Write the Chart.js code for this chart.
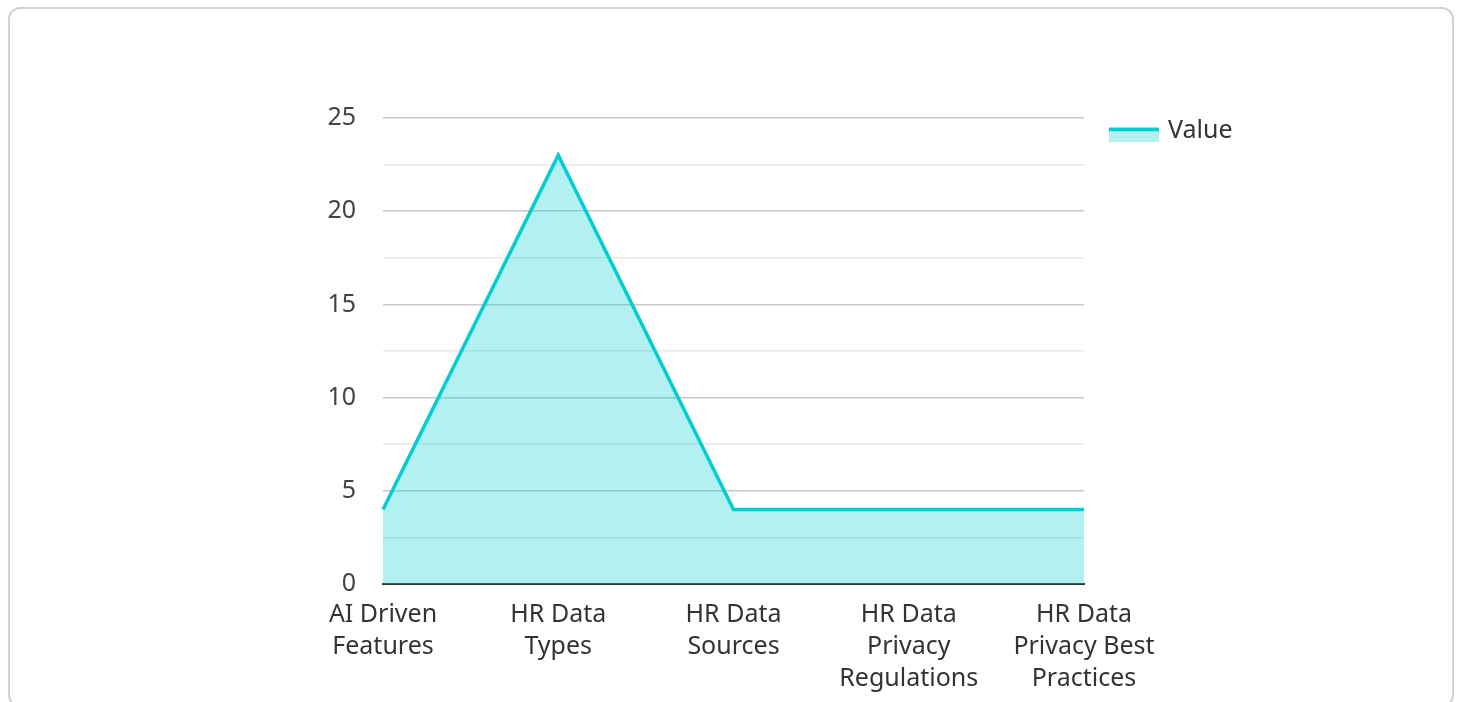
<!DOCTYPE html>
<html lang="en">
<head>
    <meta charset="UTF-8">
    <title>HR Data Chart</title>
    <script src="https://cdn.jsdelivr.net/npm/chart.js"></script>
    <style>
        body, html {
            margin: 0;
            padding: 0;
            width: 1460px;
            height: 702px;
            overflow: hidden;
            background: #ffffff;
            font-family: 'Noto Sans', sans-serif;
        }

        /* carte arrondie derriere le graphique */
        #card {
            position: absolute;
            left: 8px;
            top: 7px;
            width: 1446px;
            height: 700px;
            box-sizing: border-box;
            border: 2px solid #d2d2d2;
            border-radius: 12px;
        }

        #chartBox {
            position: absolute;
            left: 0;
            top: 0;
            width: 1460px;
            height: 702px;
        }
    </style>
</head>
<body>
    <div id="card"></div>
    <div id="chartBox">
        <canvas id="areaChart"></canvas>
    </div>

    <script>
        // Donnees
        const categories = [
            ['AI Driven', 'Features'],
            ['HR Data', 'Types'],
            ['HR Data', 'Sources'],
            ['HR Data', 'Privacy', 'Regulations'],
            ['HR Data', 'Privacy Best', 'Practices']
        ];
        const values = [4, 23, 4, 4, 4];
        const seriesName = 'Value';
        const yTicks = [0, 5, 10, 15, 20, 25];

        const lineColor = 'rgb(0, 206, 209)';
        const fillColor = 'rgba(0, 206, 209, 0.3)';

        // legende dessinee a la main (trait + aplat)
        const customLegend = {
            id: 'customLegend',
            afterDraw(chart) {
                const ds = chart.data.datasets[0];
                const ctx = chart.ctx;
                const x = chart.chartArea.right + 25;
                const y = chart.chartArea.top + 9;
                ctx.save();
                ctx.fillStyle = ds.backgroundColor;
                ctx.fillRect(x, y, 50, 15);
                ctx.strokeStyle = ds.borderColor;
                ctx.lineWidth = 3.5;
                ctx.beginPath();
                ctx.moveTo(x, y + 2.5);
                ctx.lineTo(x + 50, y + 2.5);
                ctx.stroke();
                ctx.fillStyle = '#333';
                ctx.font = "25px 'Noto Sans'";
                ctx.textBaseline = 'middle';
                ctx.fillText(ds.label, x + 59, y + 4);
                ctx.restore();
            }
        };

        const areaChart = new Chart(document.getElementById('areaChart'), {
            type: 'line',
            data: {
                labels: categories,
                datasets: [{
                    label: seriesName,
                    data: values,
                    borderColor: lineColor,
                    backgroundColor: fillColor,
                    borderWidth: 3.5,
                    fill: 'origin',
                    tension: 0,
                    pointRadius: 0,
                    pointHoverRadius: 0
                }]
            },
            options: {
                responsive: true,
                maintainAspectRatio: false,
                animation: false,
                layout: {
                    padding: { left: 300, right: 376, top: 118, bottom: 0 }
                },
                plugins: {
                    legend: { display: false },
                    tooltip: { enabled: false }
                },
                scales: {
                    x: {
                        offset: false,
                        grid: { display: false },
                        border: { display: true, color: '#333', width: 2 },
                        ticks: {
                            color: '#333',
                            padding: 7,
                            maxRotation: 0,
                            autoSkip: false,
                            font: { family: 'Noto Sans', size: 25, lineHeight: 1.28 }
                        },
                        afterFit(scale) { scale.height = 118; }
                    },
                    y: {
                        min: 0,
                        max: 25,
                        grid: {
                            drawTicks: false,
                            color: (c) => yTicks.includes(c.tick.value) ? '#c8c8c8' : '#e8e8e8',
                            lineWidth: 1.5
                        },
                        border: { display: false },
                        ticks: {
                            stepSize: 2.5,
                            padding: 27,
                            color: '#444',
                            font: { family: 'Noto Sans', size: 25 },
                            callback: (v) => yTicks.includes(v) ? v : ''
                        },
                        afterFit(scale) { scale.width = 83; }
                    }
                }
            },
            plugins: [customLegend]
        });
    </script>
</body>
</html>
